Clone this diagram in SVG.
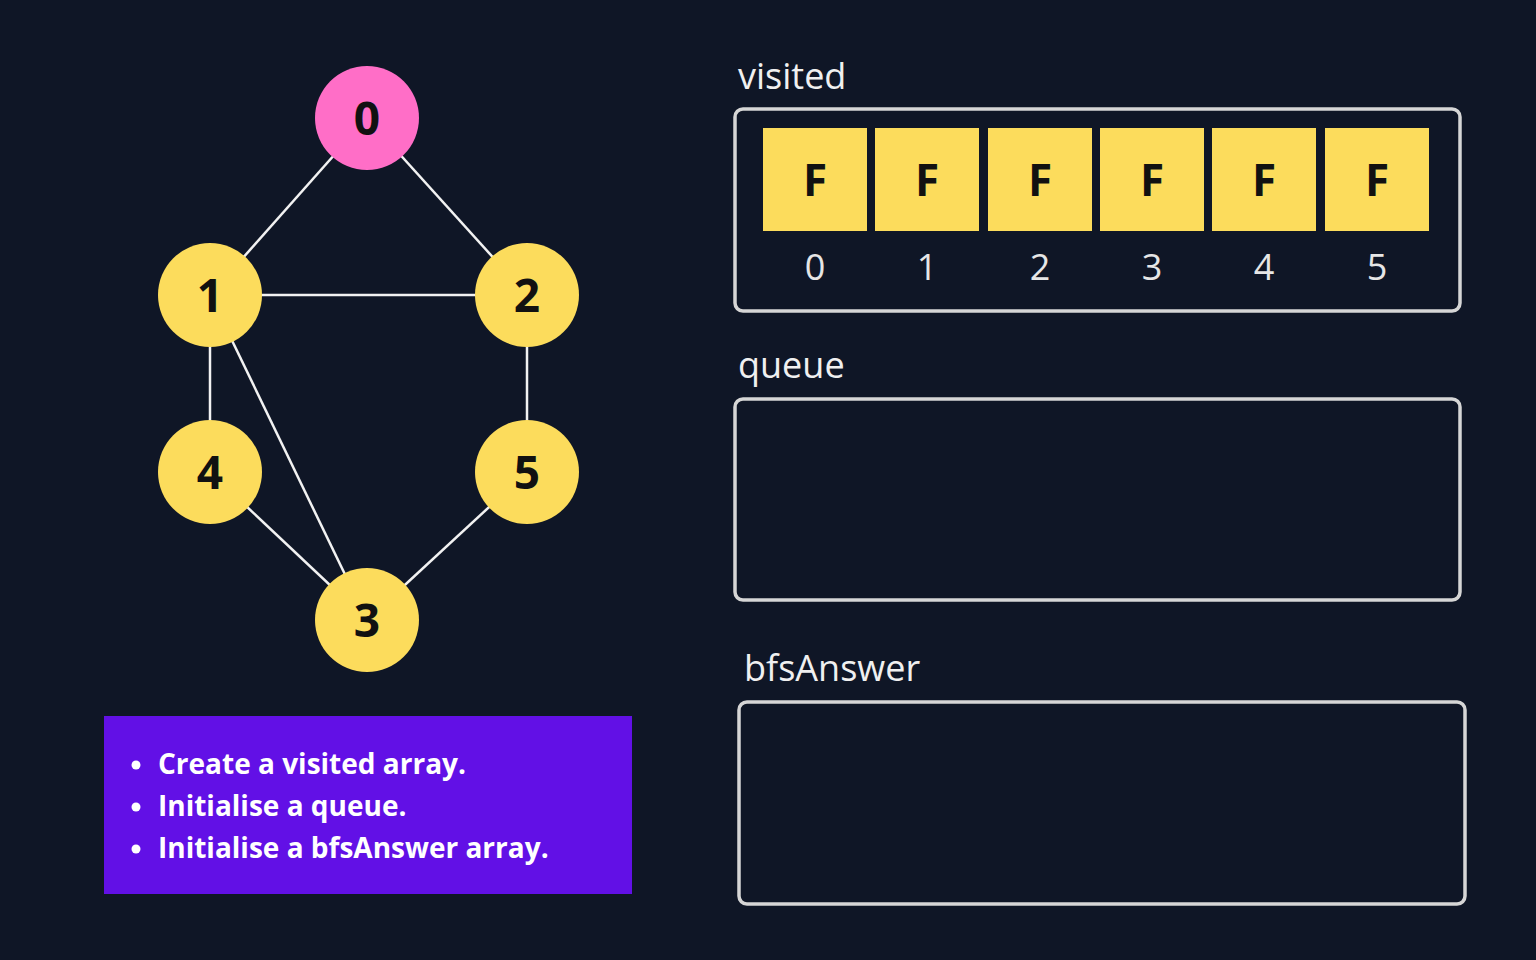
<svg xmlns="http://www.w3.org/2000/svg" width="1536" height="960" viewBox="0 0 1536 960">
<style>
.node circle{fill:#fcdc5c}
.node text{font-family:"Open Sans","Noto Sans",sans-serif;font-weight:bold;font-size:46px;fill:#111;text-anchor:middle}
.edge{stroke:#f2f2f2;stroke-width:2.5}
.box{fill:none;stroke:#d6d6d6;stroke-width:3.5}
.lbl{font-family:"Open Sans","Noto Sans",sans-serif;font-size:36px;fill:#f0f0f0}
.cell{fill:#fcdc5c}
.f{font-family:"Open Sans","Noto Sans",sans-serif;font-weight:bold;font-size:44px;fill:#111;text-anchor:middle}
.idx{font-family:"Open Sans","Noto Sans",sans-serif;font-size:36px;fill:#e6e6e6;text-anchor:middle}
.bul{font-family:"Open Sans","Noto Sans",sans-serif;font-weight:bold;font-size:28px;fill:#fff}
</style>
<rect width="1536" height="960" fill="#0f1626"/>
<g id="connectors">
<line class="edge" x1="367" y1="118" x2="210" y2="295"/>
<line class="edge" x1="367" y1="118" x2="527" y2="295"/>
<line class="edge" x1="210" y1="295" x2="527" y2="295"/>
<line class="edge" x1="210" y1="295" x2="210" y2="472"/>
<line class="edge" x1="210" y1="295" x2="367" y2="620"/>
<line class="edge" x1="527" y1="295" x2="527" y2="472"/>
<line class="edge" x1="210" y1="472" x2="367" y2="620"/>
<line class="edge" x1="527" y1="472" x2="367" y2="620"/>
</g>
<g id="n0" class="node"><circle cx="367" cy="118" r="52" style="fill:#ff6ec7"/><text x="367" y="135">0</text></g>
<g id="n1" class="node"><circle cx="210" cy="295" r="52"/><text x="210" y="312">1</text></g>
<g id="n2" class="node"><circle cx="527" cy="295" r="52"/><text x="527" y="312">2</text></g>
<g id="n4" class="node"><circle cx="210" cy="472" r="52"/><text x="210" y="489">4</text></g>
<g id="n5" class="node"><circle cx="527" cy="472" r="52"/><text x="527" y="489">5</text></g>
<g id="n3" class="node"><circle cx="367" cy="620" r="52"/><text x="367" y="637">3</text></g>
<g id="visited">
<text class="lbl" x="738" y="89">visited</text>
<rect class="box" x="735" y="109" width="725" height="202" rx="8"/>
<rect class="cell" x="763" y="128" width="104" height="103"/><text class="f" x="815" y="196">F</text><text class="idx" x="815" y="280">0</text>
<rect class="cell" x="875" y="128" width="104" height="103"/><text class="f" x="927" y="196">F</text><text class="idx" x="927" y="280">1</text>
<rect class="cell" x="988" y="128" width="104" height="103"/><text class="f" x="1040" y="196">F</text><text class="idx" x="1040" y="280">2</text>
<rect class="cell" x="1100" y="128" width="104" height="103"/><text class="f" x="1152" y="196">F</text><text class="idx" x="1152" y="280">3</text>
<rect class="cell" x="1212" y="128" width="104" height="103"/><text class="f" x="1264" y="196">F</text><text class="idx" x="1264" y="280">4</text>
<rect class="cell" x="1325" y="128" width="104" height="103"/><text class="f" x="1377" y="196">F</text><text class="idx" x="1377" y="280">5</text>
</g>
<g id="queue">
<text class="lbl" x="738" y="378">queue</text>
<rect class="box" x="735" y="399" width="725" height="201" rx="8"/>
</g>
<g id="bfsAnswer">
<text class="lbl" x="744" y="681">bfsAnswer</text>
<rect class="box" x="739" y="702" width="726" height="202" rx="8"/>
</g>
<g id="notes">
<rect x="104" y="716" width="528" height="178" fill="#6210e6"/>
<circle cx="136" cy="765" r="4.5" fill="#fff"/><text class="bul" x="158" y="774">Create a visited array.</text>
<circle cx="136" cy="807" r="4.5" fill="#fff"/><text class="bul" x="158" y="816">Initialise a queue.</text>
<circle cx="136" cy="849" r="4.5" fill="#fff"/><text class="bul" x="158" y="858">Initialise a bfsAnswer array.</text>
</g>
</svg>
